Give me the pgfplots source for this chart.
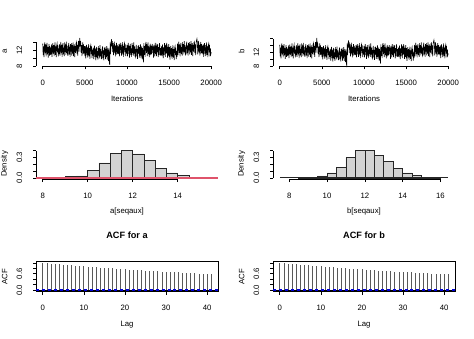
\documentclass[border=0pt]{standalone}
\usepackage{fontspec}
\setmainfont{Liberation Sans}
\usepackage{pgfplots}
\pgfplotsset{compat=1.18}
\usepackage{pgfplotstable}
\definecolor{rred}{HTML}{DF536B}
\definecolor{rgray}{HTML}{D3D3D3}

\pgfplotstableread[row sep=\\]{
v\\
13.6\\10.7\\12.9\\10.2\\13.2\\13.9\\11.2\\13.4\\10.4\\12.5\\13.8\\10.9\\12.8\\10.1\\12.2\\13.5\\10.6\\13.0\\10.8\\12.6\\
10.9\\13.4\\10.3\\12.7\\13.7\\11.1\\13.2\\10.5\\12.3\\13.9\\10.8\\12.9\\10.2\\13.1\\13.6\\11.4\\13.3\\10.4\\12.4\\11.0\\
13.5\\10.6\\12.8\\14.0\\11.2\\13.3\\10.3\\13.0\\13.7\\10.9\\12.6\\10.5\\13.9\\11.5\\13.4\\10.8\\14.1\\11.3\\13.1\\10.7\\
10.7\\13.1\\13.8\\10.9\\12.8\\10.3\\13.5\\11.6\\13.7\\10.6\\13.2\\11.1\\13.9\\10.5\\12.7\\13.4\\10.2\\13.0\\11.3\\13.6\\
14.0\\11.1\\13.3\\10.6\\13.6\\14.3\\11.6\\13.8\\15.0\\12.9\\14.2\\11.3\\13.2\\10.5\\12.6\\13.9\\11.0\\13.4\\11.2\\13.0\\
10.5\\13.0\\9.9\\12.3\\13.3\\10.7\\12.8\\10.1\\11.9\\13.5\\10.4\\12.5\\9.8\\12.7\\13.2\\11.0\\12.9\\10.0\\12.0\\10.6\\
12.6\\9.7\\11.9\\13.1\\10.3\\12.4\\9.4\\12.1\\12.8\\10.0\\11.7\\9.6\\13.0\\10.6\\12.5\\9.9\\13.2\\10.4\\12.2\\9.8\\
9.8\\12.2\\12.9\\10.0\\11.9\\9.4\\12.6\\10.7\\12.8\\9.7\\12.3\\10.2\\13.0\\9.6\\11.8\\12.5\\9.3\\12.1\\8.9\\8.3\\
13.9\\11.0\\13.2\\14.7\\13.5\\14.2\\11.5\\13.7\\10.7\\12.8\\14.1\\11.2\\13.1\\10.4\\12.5\\13.8\\10.9\\13.3\\11.1\\12.9\\
11.0\\13.5\\10.4\\12.8\\13.8\\11.2\\13.3\\10.6\\12.4\\14.0\\10.9\\13.0\\10.3\\13.2\\13.7\\11.5\\13.4\\10.5\\12.5\\11.1\\
13.3\\10.4\\12.6\\13.8\\11.0\\13.1\\10.1\\12.8\\13.5\\10.7\\12.4\\10.3\\13.7\\11.3\\13.2\\10.6\\13.9\\11.1\\12.9\\10.5\\
10.2\\12.6\\13.3\\10.4\\12.3\\9.8\\13.0\\11.1\\13.2\\10.1\\12.7\\10.6\\13.4\\10.0\\12.2\\12.9\\9.7\\12.5\\10.8\\8.9\\
13.7\\10.8\\13.0\\10.3\\13.3\\14.0\\11.3\\13.5\\10.5\\12.6\\13.9\\11.0\\12.9\\10.2\\12.3\\13.6\\10.7\\13.1\\10.9\\12.7\\
13.5\\11.2\\12.9\\10.1\\13.3\\12.6\\10.4\\13.8\\11.0\\13.1\\10.5\\13.6\\11.5\\13.4\\10.2\\12.7\\10.8\\13.7\\13.0\\10.6\\
12.5\\10.7\\12.9\\10.5\\13.4\\12.1\\10.0\\12.7\\10.8\\13.7\\12.4\\10.3\\13.3\\11.1\\13.8\\13.1\\10.1\\12.8\\10.6\\13.5\\
10.2\\12.7\\9.6\\12.0\\13.0\\10.4\\12.5\\9.8\\11.6\\13.2\\10.1\\12.2\\9.5\\12.4\\12.9\\10.7\\12.6\\9.7\\11.7\\10.3\\
13.6\\10.7\\12.9\\14.1\\11.3\\13.4\\10.4\\13.1\\13.8\\11.0\\12.7\\10.6\\14.0\\11.6\\13.5\\10.9\\14.2\\11.4\\13.2\\10.8\\
11.0\\13.4\\14.1\\11.2\\13.1\\10.6\\13.8\\11.9\\14.0\\10.9\\13.5\\11.4\\14.2\\10.8\\13.0\\13.7\\10.5\\13.3\\11.6\\13.9\\
14.1\\11.2\\13.4\\10.7\\13.7\\14.4\\14.8\\13.9\\10.9\\13.0\\14.3\\11.4\\13.3\\10.6\\12.7\\14.0\\11.1\\13.5\\11.3\\13.1\\
10.9\\13.4\\10.3\\12.7\\13.7\\11.1\\13.2\\10.5\\12.3\\13.9\\10.8\\12.9\\10.2\\13.1\\13.6\\11.4\\13.3\\10.4\\12.4\\11.0\\
11.4\\
}\tracea

\pgfplotstableread[row sep=\\]{
v\\
14.2\\10.8\\13.4\\10.2\\13.7\\14.6\\11.4\\14.0\\10.5\\12.9\\14.4\\11.1\\13.3\\10.1\\12.6\\14.1\\10.7\\13.5\\10.9\\13.0\\
11.1\\14.0\\10.3\\13.2\\14.3\\11.3\\13.7\\10.6\\12.7\\14.6\\10.9\\13.4\\10.2\\13.6\\14.2\\11.6\\13.9\\10.5\\12.8\\11.2\\
14.1\\10.7\\13.3\\14.7\\11.4\\13.9\\10.3\\13.5\\14.3\\11.1\\13.0\\10.6\\14.6\\11.8\\14.0\\10.9\\14.8\\11.5\\13.6\\10.8\\
10.8\\13.6\\14.4\\11.1\\13.3\\10.3\\14.1\\11.9\\14.3\\10.7\\13.7\\11.3\\14.6\\10.6\\13.2\\14.0\\10.2\\13.5\\11.5\\14.2\\
14.7\\11.3\\13.9\\10.7\\14.2\\15.0\\11.9\\14.4\\16.2\\13.4\\14.9\\11.5\\13.7\\10.6\\13.0\\14.6\\11.2\\14.0\\11.4\\13.5\\
10.6\\13.5\\9.9\\12.7\\13.9\\10.8\\13.3\\10.1\\12.2\\14.1\\10.5\\12.9\\9.8\\13.2\\13.7\\11.2\\13.4\\10.0\\12.3\\10.7\\
13.0\\9.6\\12.2\\13.6\\10.3\\12.8\\9.3\\12.5\\13.3\\10.0\\12.0\\9.5\\13.5\\10.7\\12.9\\9.9\\13.7\\10.5\\12.6\\9.8\\
9.8\\12.6\\13.4\\10.0\\12.2\\9.3\\13.0\\10.8\\13.3\\9.6\\12.7\\10.2\\13.5\\9.5\\12.1\\12.9\\9.2\\12.5\\8.7\\8.2\\
14.6\\11.2\\13.7\\15.5\\14.1\\14.9\\11.8\\14.3\\10.8\\13.3\\14.8\\11.4\\13.6\\10.5\\12.9\\14.4\\11.1\\13.9\\11.3\\13.4\\
11.2\\14.1\\10.5\\13.3\\14.4\\11.4\\13.9\\10.7\\12.8\\14.7\\11.1\\13.5\\10.3\\13.7\\14.3\\11.8\\14.0\\10.6\\12.9\\11.3\\
13.9\\10.5\\13.0\\14.4\\11.2\\13.6\\10.1\\13.3\\14.1\\10.8\\12.8\\10.3\\14.3\\11.5\\13.7\\10.7\\14.6\\11.3\\13.4\\10.6\\
10.2\\13.0\\13.9\\10.5\\12.7\\9.8\\13.5\\11.3\\13.7\\10.1\\13.2\\10.7\\14.0\\10.0\\12.6\\13.4\\9.6\\12.9\\10.9\\8.7\\
14.3\\10.9\\13.5\\10.3\\13.9\\14.7\\11.5\\14.1\\10.6\\13.0\\14.6\\11.2\\13.4\\10.2\\12.7\\14.2\\10.8\\13.6\\11.1\\13.2\\
14.1\\11.4\\13.4\\10.1\\13.9\\13.0\\10.5\\14.4\\11.2\\13.6\\10.6\\14.2\\11.8\\14.0\\10.2\\13.2\\10.9\\14.3\\13.5\\10.7\\
12.9\\10.8\\13.4\\10.6\\14.0\\12.5\\10.0\\13.2\\10.9\\14.3\\12.8\\10.3\\13.9\\11.3\\14.4\\13.6\\10.1\\13.3\\10.7\\14.1\\
10.2\\13.2\\9.5\\12.3\\13.5\\10.5\\12.9\\9.8\\11.9\\13.7\\10.1\\12.6\\9.4\\12.8\\13.4\\10.8\\13.0\\9.6\\12.0\\10.3\\
14.2\\10.8\\13.4\\14.8\\11.5\\14.0\\10.5\\13.6\\14.4\\11.2\\13.2\\10.7\\14.7\\11.9\\14.1\\11.1\\14.9\\11.6\\13.7\\10.9\\
11.2\\14.0\\14.8\\11.4\\13.6\\10.7\\14.4\\12.2\\14.7\\11.1\\14.1\\11.6\\14.9\\10.9\\13.5\\14.3\\10.6\\13.9\\11.9\\14.6\\
14.8\\11.4\\14.0\\10.8\\14.3\\15.1\\15.6\\14.6\\11.1\\13.5\\15.0\\11.6\\13.9\\10.7\\13.2\\14.7\\11.3\\14.1\\11.5\\13.6\\
11.1\\14.0\\10.3\\13.2\\14.3\\11.3\\13.7\\10.6\\12.7\\14.6\\10.9\\13.4\\10.2\\13.6\\14.2\\11.6\\13.9\\10.5\\12.8\\11.2\\
11.6\\
}\traceb

\pgfplotstableread[row sep=\\]{
v\\
1.000\\0.985\\0.972\\0.960\\0.948\\0.935\\0.922\\0.910\\0.897\\0.885\\0.873\\0.862\\0.850\\0.838\\
0.827\\0.816\\0.806\\0.795\\0.784\\0.774\\0.764\\0.754\\0.744\\0.734\\0.725\\0.716\\0.707\\0.698\\
0.689\\0.680\\0.672\\0.664\\0.656\\0.648\\0.640\\0.632\\0.625\\0.617\\0.610\\0.603\\0.596\\0.589\\
}\acfa

\pgfplotstableread[row sep=\\]{
v\\
1.000\\0.984\\0.970\\0.957\\0.944\\0.931\\0.919\\0.906\\0.894\\0.882\\0.870\\0.858\\0.846\\0.835\\
0.823\\0.812\\0.801\\0.790\\0.779\\0.769\\0.758\\0.748\\0.738\\0.728\\0.719\\0.709\\0.700\\0.691\\
0.682\\0.673\\0.664\\0.656\\0.648\\0.640\\0.632\\0.624\\0.616\\0.609\\0.601\\0.594\\0.587\\0.580\\
}\acfb

\pgfplotsset{
  rbase/.style={
    scale only axis, width=182bp, height=30bp, anchor=south west, clip=false,
    scaled ticks=false,
    tick align=outside, major tick length=3bp,
    every tick/.style={black, line width=0.6pt},
    tick label style={font=\fontsize{7.8}{9}\selectfont, text=black},
    label style={font=\fontsize{7.8}{9}\selectfont, text=black},
    xticklabel style={anchor=center, yshift=-13.5bp},
    yticklabel style={xshift=-13.5bp, rotate=90, anchor=center},
    xlabel style={at={(axis description cs:0.5,-1.09)}, anchor=center},
    ylabel style={at={(axis description cs:-0.172,0.5)}, anchor=center},
    title style={font=\bfseries\fontsize{9.2}{11}\selectfont, at={(axis description cs:0.5,1.667)}, anchor=center},
  },
  ropen/.style={rbase, axis x line*=bottom, axis y line*=left, axis line style={draw=none}},
  rbox/.style={rbase, tick pos=left, axis line style={black, line width=0.6pt}},
}

\begin{document}
\begin{tikzpicture}[x=1bp,y=1bp]
\useasboundingbox (0,0) rectangle (474,338);

% ---- trace a
\begin{axis}[ropen, at={(36bp,271.7bp)}, xmin=-800, xmax=20800, ymin=7.93, ymax=15.43,
  xtick={0,5000,10000,15000,20000}, xticklabels={0,5000,10000,15000,20000},
  ytick={8,10,12,14}, yticklabels={8,,12,}, xlabel={Iterations}, ylabel={a}]
\addplot[black, line width=0.6pt] table[x expr=\coordindex*50, y=v] {\tracea};
\draw[line width=0.6pt] (axis cs:0,7.93) -- (axis cs:20000,7.93);
\draw[line width=0.6pt] (axis cs:-800,8) -- (axis cs:-800,14);
\end{axis}

% ---- trace b
\begin{axis}[ropen, at={(273bp,271.7bp)}, xmin=-800, xmax=20800, ymin=7.9, ymax=16.7,
  xtick={0,5000,10000,15000,20000}, xticklabels={0,5000,10000,15000,20000},
  ytick={8,10,12,14,16}, yticklabels={8,,12,,}, xlabel={Iterations}, ylabel={b}]
\addplot[black, line width=0.6pt] table[x expr=\coordindex*50, y=v] {\traceb};
\draw[line width=0.6pt] (axis cs:0,7.9) -- (axis cs:20000,7.9);
\draw[line width=0.6pt] (axis cs:-800,8) -- (axis cs:-800,16);
\end{axis}

% ---- histogram a
\begin{axis}[ropen, at={(36bp,159bp)}, xmin=7.70, xmax=15.79, ymin=-0.0164, ymax=0.4264,
  xtick={8,10,12,14}, xticklabels={8,10,12,14},
  ytick={0,0.1,0.2,0.3,0.4}, yticklabels={0.0,,,0.3,}, xlabel={a[seqaux]}, ylabel={Density}]
\addplot[ybar interval, fill=rgray, draw=black!85, line width=0.6pt] coordinates {
 (9,0.02) (9.5,0.03) (10,0.11) (10.5,0.22) (11,0.36) (11.5,0.405) (12,0.355) (12.5,0.255)
 (13,0.14) (13.5,0.075) (14,0.032) (14.5,0.013) (15,0.004) (15.5,0.004)};
\draw[line width=0.6pt] (axis cs:8,-0.0164) -- (axis cs:14,-0.0164);
\draw[line width=0.6pt] (axis cs:7.70,0) -- (axis cs:7.70,0.4);
\addplot[rred, line width=1.2pt] coordinates {(7.70,-0.002) (15.79,-0.002)};
\end{axis}

% ---- histogram b
\begin{axis}[ropen, at={(273bp,159bp)}, xmin=7.14, xmax=16.77, ymin=-0.0164, ymax=0.4264,
  xtick={8,10,12,14,16}, xticklabels={8,10,12,14,16},
  ytick={0,0.1,0.2,0.3,0.4}, yticklabels={0.0,,,0.3,}, xlabel={b[seqaux]}, ylabel={Density}]
\addplot[ybar interval, fill=rgray, draw=black!85, line width=0.6pt] coordinates {
 (8.5,0.008) (9,0.013) (9.5,0.03) (10,0.075) (10.5,0.16) (11,0.30) (11.5,0.41) (12,0.41)
 (12.5,0.335) (13,0.24) (13.5,0.145) (14,0.075) (14.5,0.034) (15,0.013) (15.5,0.005) (16,0.005)};
\draw[line width=0.6pt] (axis cs:8,-0.0164) -- (axis cs:16,-0.0164);
\draw[line width=0.6pt] (axis cs:7.14,0) -- (axis cs:7.14,0.4);
\addplot[black!85, line width=0.9pt] coordinates {(7.5,0.001) (16.4,0.001)};
\end{axis}

% ---- ACF a
\begin{axis}[rbox, at={(36bp,46.3bp)}, xmin=-1.64, xmax=42.64, ymin=-0.0545, ymax=1.0406,
  xtick={0,10,20,30,40}, xticklabels={0,10,20,30,40},
  ytick={0,0.2,0.4,0.6,0.8,1}, yticklabels={0.0,,,0.6,,}, xlabel={Lag}, ylabel={ACF},
  title={ACF for a}]
\addplot[ycomb, black!65, line width=0.7pt] table[x expr=\coordindex, y=v] {\acfa};
\addplot[black, line width=0.6pt] coordinates {(-1.64,0) (42.64,0)};
\addplot[blue!85!black, dashed, line width=0.8pt] coordinates {(-1.64,0.0139) (42.64,0.0139)};
\addplot[blue!85!black, dashed, line width=0.8pt] coordinates {(-1.64,-0.0139) (42.64,-0.0139)};
\end{axis}

% ---- ACF b
\begin{axis}[rbox, at={(273bp,46.3bp)}, xmin=-1.64, xmax=42.64, ymin=-0.0545, ymax=1.0406,
  xtick={0,10,20,30,40}, xticklabels={0,10,20,30,40},
  ytick={0,0.2,0.4,0.6,0.8,1}, yticklabels={0.0,,,0.6,,}, xlabel={Lag}, ylabel={ACF},
  title={ACF for b}]
\addplot[ycomb, black!65, line width=0.7pt] table[x expr=\coordindex, y=v] {\acfb};
\addplot[black, line width=0.6pt] coordinates {(-1.64,0) (42.64,0)};
\addplot[blue!85!black, dashed, line width=0.8pt] coordinates {(-1.64,0.0139) (42.64,0.0139)};
\addplot[blue!85!black, dashed, line width=0.8pt] coordinates {(-1.64,-0.0139) (42.64,-0.0139)};
\end{axis}
\end{tikzpicture}
\end{document}
